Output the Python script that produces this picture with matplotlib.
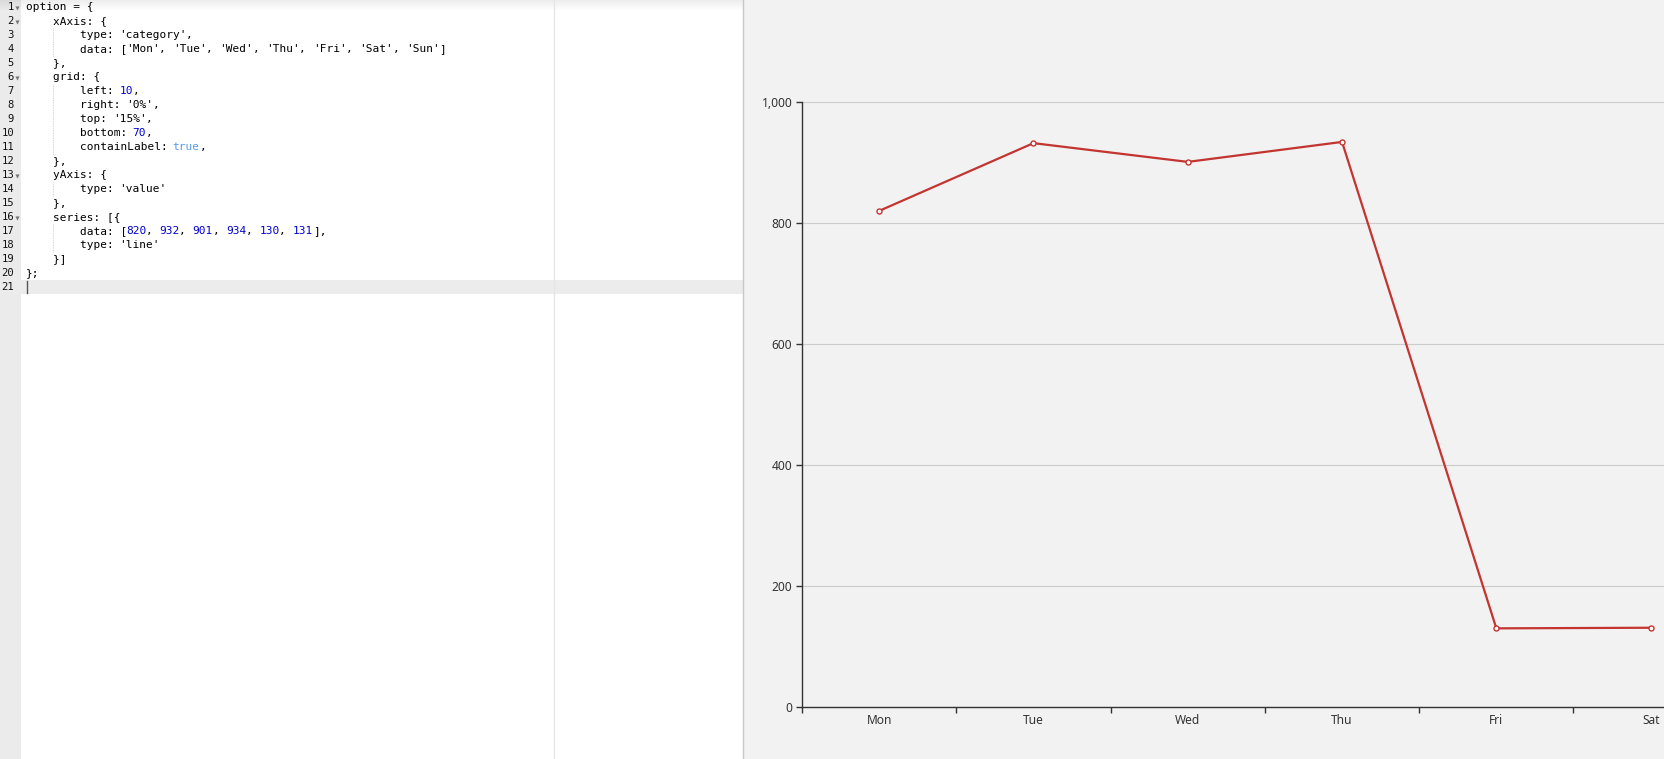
import re

import matplotlib

matplotlib.use("Agg")
import matplotlib.pyplot as plt
from matplotlib.patches import Rectangle
from matplotlib.ticker import FuncFormatter, FixedLocator

W, H = 1665, 759

days = ["Mon", "Tue", "Wed", "Thu", "Fri", "Sat", "Sun"]
values = [820, 932, 901, 934, 130, 131]
y_ticks = [0, 200, 400, 600, 800, 1000]

# editor text shown on the left, built from the same data
code_lines = [
    "option = {",
    "    xAxis: {",
    "        type: 'category',",
    "        data: [" + ", ".join(f"'{d}'" for d in days) + "]",
    "    },",
    "    grid: {",
    "        left: 10,",
    "        right: '0%',",
    "        top: '15%',",
    "        bottom: 70,",
    "        containLabel: true,",
    "    },",
    "    yAxis: {",
    "        type: 'value'",
    "    },",
    "    series: [{",
    "        data: [" + ", ".join(str(v) for v in values) + "],",
    "        type: 'line'",
    "    }]",
    "};",
    "",
]
fold_lines = [1, 2, 6, 13, 16]

TEXT = "#000000"
NUM = "#0000cd"
BOOL = "#5b9be6"
LINE_RED = "#c23531"
MONO = ["DejaVu Sans Mono"]

fig = plt.figure(figsize=(W / 100, H / 100), dpi=100)
fig.patch.set_facecolor("#ffffff")

# --- editor panel, drawn in pixel coordinates ---
ed = fig.add_axes([0, 0, 1, 1])
ed.set_xlim(0, W)
ed.set_ylim(H, 0)
ed.axis("off")

LINE_H = 14.0
CHAR_W = 6.67
X0 = 26.0
GUTTER_W = 21.0
PANEL_X = 743.0

ed.add_patch(Rectangle((PANEL_X, 0), W - PANEL_X, H, color="#f2f2f2", lw=0))
ed.add_patch(Rectangle((0, 0), GUTTER_W, H, color="#ebebeb", lw=0))
# active line highlight
ed.add_patch(Rectangle((0, 20 * LINE_H), PANEL_X, LINE_H, color="#ececec", lw=0))
ed.plot([554, 554], [0, H], color="#e6e6e6", lw=1)
ed.plot([PANEL_X, PANEL_X], [0, H], color="#c8c8c8", lw=1)

# top shadow
for k in range(10):
    ed.add_patch(Rectangle((0, k), PANEL_X, 1, color="#000000",
                           alpha=0.07 * (1 - k / 10), lw=0))

token_re = re.compile(r"('[^']*')|(\b\d+\b)|(\btrue\b)")

for i, line in enumerate(code_lines):
    yc = 7 + i * LINE_H
    ed.text(14, yc, str(i + 1), ha="right", va="center", family=MONO,
            fontsize=7.6, color="#111111")
    if i + 1 in fold_lines:
        ed.plot(17.5, yc + 0.5, marker="v", ms=3.0, color="#777777", mew=0)
    pos = 0
    segments = []
    for m in token_re.finditer(line):
        if m.start() > pos:
            segments.append((pos, line[pos:m.start()], TEXT))
        if m.group(1):
            col = TEXT
        elif m.group(2):
            col = NUM
        else:
            col = BOOL
        segments.append((m.start(), m.group(0), col))
        pos = m.end()
    if pos < len(line):
        segments.append((pos, line[pos:], TEXT))
    for start, txt, col in segments:
        ed.text(X0 + start * CHAR_W, yc, txt, ha="left", va="center",
                family=MONO, fontsize=8, color=col)
    # indent guide
    if line.startswith("        "):
        ed.plot([X0 + 4 * CHAR_W, X0 + 4 * CHAR_W], [yc - 7, yc + 7],
                color="#c8c8c8", lw=0.6, ls=(0, (1, 1)))

# cursor
ed.plot([X0 + 1, X0 + 1], [20 * LINE_H + 1, 21 * LINE_H - 1], color="#555555", lw=1)

# --- chart panel ---
ax_left = 802 / W
ax_bottom = (H - 707) / H
ax_width = 7 * 154.3 / W
ax_height = 605 / H
ax = fig.add_axes([ax_left, ax_bottom, ax_width, ax_height])
ax.set_facecolor("none")

ax.plot(range(len(values)), values, color=LINE_RED, lw=1.6, marker="o",
        ms=3.6, mfc="white", mec=LINE_RED, mew=1, zorder=3, clip_on=False)

ax.set_xlim(-0.5, len(days) - 0.5)
ax.set_ylim(0, 1000)

for s in ["top", "right"]:
    ax.spines[s].set_visible(False)
for s in ["left", "bottom"]:
    ax.spines[s].set_color("#333333")
    ax.spines[s].set_linewidth(1)

ax.yaxis.set_major_locator(FixedLocator(y_ticks))
ax.yaxis.set_major_formatter(FuncFormatter(lambda v, _: f"{int(v):,}"))
ax.grid(axis="y", color="#cccccc", lw=0.8)
ax.set_axisbelow(True)

ax.set_xticks([k - 0.5 for k in range(len(days) + 1)])
ax.set_xticklabels([])
ax.set_xticks(range(len(days)), minor=True)
ax.set_xticklabels(days, minor=True)

ax.tick_params(axis="y", length=4, width=1, color="#333333", pad=3,
               labelsize=8.6, labelcolor="#333333")
ax.tick_params(axis="x", which="major", length=4, width=1, color="#333333")
ax.tick_params(axis="x", which="minor", length=0, pad=5, labelsize=8.6,
               labelcolor="#333333")
for lab in ax.get_xticklabels(minor=True) + ax.get_yticklabels():
    lab.set_family(["Noto Sans", "DejaVu Sans"])

fig.savefig("out.png", dpi=100)
